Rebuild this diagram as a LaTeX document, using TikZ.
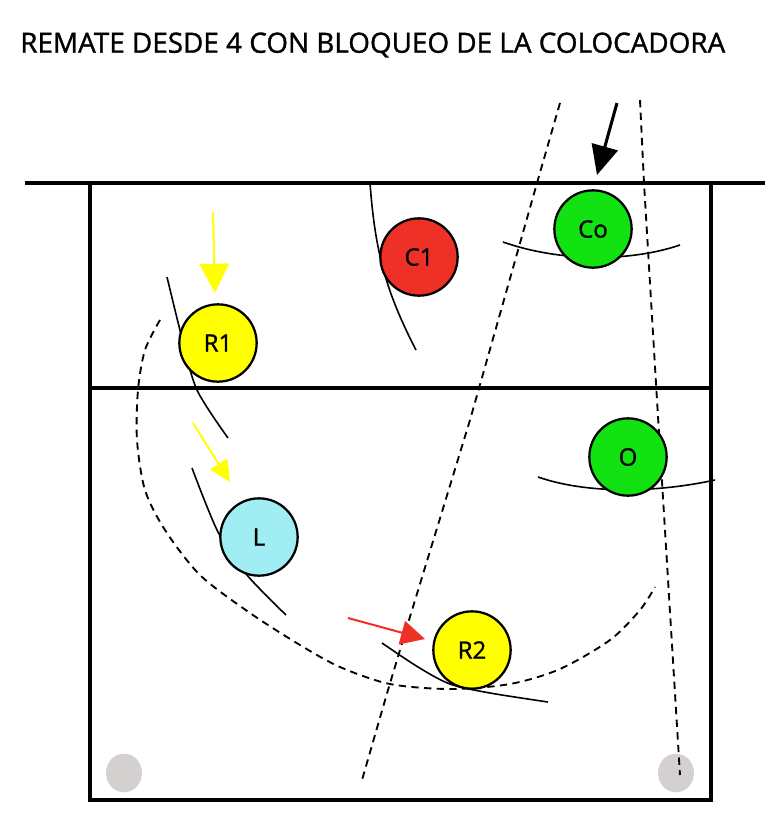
\documentclass[tikz,border=0pt]{standalone}
\usepackage{fontspec}
\setmainfont{Open Sans}
\newfontfamily\headfont[FakeBold=1.2]{Open Sans}
\usetikzlibrary{arrows.meta,calc,positioning,shapes.geometric}
\definecolor{setgreen}{RGB}{18,226,18}
\definecolor{blockred}{RGB}{238,48,38}
\definecolor{passyellow}{RGB}{255,255,0}
\definecolor{liberocyan}{RGB}{160,238,244}
\definecolor{postgrey}{RGB}{212,208,208}
\tikzset{
  court/.style={black,line width=2.8pt},
  body/.style={black,line width=1.2pt},
  route/.style={black,line width=1.4pt,dash pattern=on 5.5pt off 4pt},
  player/.style={circle,draw=black,line width=1.7pt,minimum size=58pt,inner sep=0pt,
                 font=\headfont\fontsize{18}{18}\selectfont},
  post/.style={ellipse,fill=postgrey,minimum width=27pt,minimum height=29pt,inner sep=0pt},
  move/.style={line width=1.5pt},
  heading/.style={font=\headfont\fontsize{20.9}{21}\selectfont,anchor=west,inner sep=0pt},
}

\begin{document}
\begin{tikzpicture}[x=0.75pt,y=-0.75pt]
  \useasboundingbox (0,0) rectangle (770,819);
  \node[heading] (title) at (20,45) {REMATE DESDE 4 CON BLOQUEO DE LA COLOCADORA};

  % court
  \draw[court] (25,183) -- (765,183);
  \draw[court] (90,183) rectangle (711,800);
  \draw[court] (90,388) -- (711,388);
  \node[post] (postL) at (124,773) {};
  \node[post] (postR) at (676,773) {};

  % routes
  \draw[route] (560,103) -- (537,183) -- (470,420) -- (409,620) -- (388,690) -- (362,780);
  \draw[route] (640,100) -- (644,183) -- (657,400) -- (680,775);
  \draw[route] plot[smooth] coordinates {(160,320) (145,350) (138,390) (137,440) (145,490)
    (165,530) (200,575) (250,613) (300,645) (340,667) (390,684) (450,689) (510,684)
    (560,669) (610,640) (640,610) (655,587)};

  % block and defence lines
  \draw[body] (503,242) .. controls (560,262) and (630,262) .. (680,245);
  \draw[body] (370,183) .. controls (375,250) and (385,290) .. (416,350);
  \draw[body] plot[smooth] coordinates {(167,277) (182,338) (197,390) (228,438)};
  \draw[body] plot[smooth] coordinates {(192,468) (218,532) (247,575) (286,615)};
  \draw[body] (538,477) .. controls (590,495) and (660,492) .. (715,480);
  \draw[body] plot[smooth] coordinates {(382,643) (418,667) (450,684) (490,693) (548,702)};

  % players
  \node[player,fill=setgreen] (Co) at (593,229) {Co};
  \node[player,fill=blockred] (C1) at (419,257) {C1};
  \node[player,fill=passyellow] (R1) at (218,343) {R1};
  \node[player,fill=setgreen] (O) at (628,457) {O};
  \node[player,fill=liberocyan] (L) at (259,537) {L};
  \node[player,fill=passyellow] (R2) at (472,650) {R2};

  % movements
  \coordinate (ball) at (617,103);
  \coordinate (ballend) at (597,175);
  \draw[move,line width=2.3pt,-{Triangle[length=22pt,width=20pt]}] (ball) -- (ballend);
  \coordinate (r1from) at (213,212);
  \coordinate (r1to) at (215,293);
  \draw[move,passyellow,-{Triangle[length=22pt,width=22pt]}] (r1from) -- (r1to);
  \coordinate (lfrom) at (193,423);
  \coordinate (lto) at (230,482);
  \draw[move,passyellow,-{Triangle[length=16pt,width=15pt]}] (lfrom) -- (lto);
  \coordinate (r2from) at (348,618);
  \coordinate (r2to) at (425,639);
  \draw[move,blockred,-{Triangle[length=18pt,width=18pt]}] (r2from) -- (r2to);
\end{tikzpicture}
\end{document}
